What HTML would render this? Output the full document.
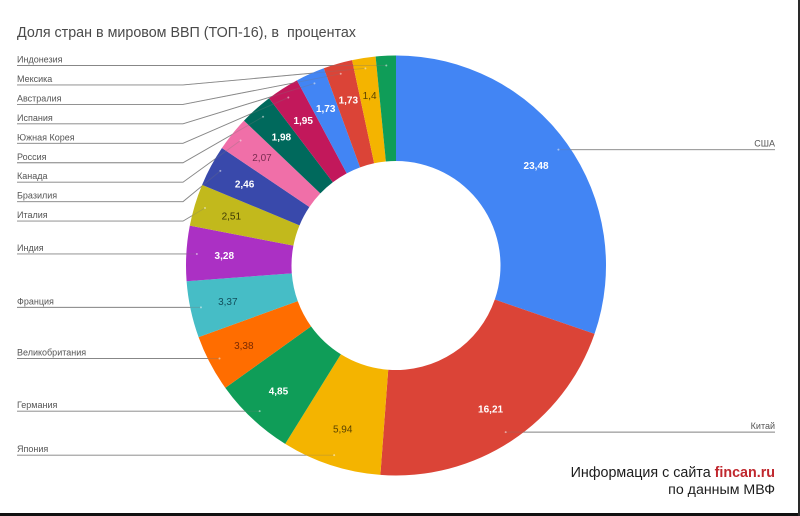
<!DOCTYPE html>
<html lang="ru">
<head>
<meta charset="utf-8">
<title>Доля стран в мировом ВВП</title>
<style>
html,body{margin:0;padding:0;background:#fff;}
body{width:800px;height:516px;overflow:hidden;position:relative;}
svg{display:block;position:absolute;left:0;top:0;filter:blur(0.35px);}
text{font-family:"Liberation Sans",sans-serif;}
</style>
</head>
<body>
<svg id="chart" width="800" height="516" viewBox="0 0 800 516">
  <rect x="0" y="0" width="800" height="516" fill="#ffffff"/>
  <text x="17" y="37" font-size="14.3" fill="#4a4a4a" xml:space="preserve">Доля стран в мировом ВВП (ТОП-16), в  процентах</text>
  <g id="leadersUnder"></g>
  <g id="slices"></g>
  <g id="leadersOver" opacity="0.3"></g>
  <g id="dots"></g>
  <g id="values"></g>
  <g id="names"></g>
  <text x="775" y="477" font-size="14.3" fill="#1c1c1c" text-anchor="end">Информация с сайта <tspan fill="#c0272d" font-weight="bold">fincan.ru</tspan></text>
  <text x="775" y="494" font-size="14.2" fill="#1c1c1c" text-anchor="end">по данным МВФ</text>
  <rect x="0" y="513" width="800" height="3" fill="#111111"/>
  <rect x="798" y="0" width="2" height="516" fill="#2a2a2a"/>
</svg>
<script>
const categories = ["США","Китай","Япония","Германия","Великобритания","Франция","Индия","Италия","Бразилия","Канада","Россия","Южная Корея","Испания","Австралия","Мексика","Индонезия"];
const seriesValues = [23.48,16.21,5.94,4.85,3.38,3.37,3.28,2.51,2.46,2.07,1.98,1.95,1.73,1.73,1.4,1.2];
const printedValues = ["23,48","16,21","5,94","4,85","3,38","3,37","3,28","2,51","2,46","2,07","1,98","1,95","1,73","1,73","1,4",""];
const sliceColors = ["#4285f4","#db4437","#f4b400","#0f9d58","#ff6d00","#46bdc6","#ab30c4","#c2b91c","#3949ab","#f06fa8","#00695c","#c2185b","#4285f4","#db4437","#f4b400","#0f9d58"];
const valueColors = ["#ffffff","#ffffff","#5a4300","#ffffff","#7a2a00","#124f5c","#ffffff","#3d3a05","#ffffff","#7a2b50","#ffffff","#ffffff","#ffffff","#ffffff","#5a4300","#ffffff"];

const NS = "http://www.w3.org/2000/svg";
const CX = 396, CY = 265.5, R = 210, r = 104.5;
const RL = 172, RA = 199.5;
const total = seriesValues.reduce((a, b) => a + b, 0);
const angleScale = v => v / total * Math.PI * 2;
const px = (a, rad) => CX + rad * Math.sin(a);
const py = (a, rad) => CY - rad * Math.cos(a);

const slicesG = document.getElementById("slices");
const leadersUnderG = document.getElementById("leadersUnder");
const leadersOverG = document.getElementById("leadersOver");
const dotsG = document.getElementById("dots");
const valuesG = document.getElementById("values");
const namesG = document.getElementById("names");

let cum = 0;
seriesValues.forEach(function (v, i) {
  const a0 = angleScale(cum);
  const a1 = angleScale(cum + v);
  const mid = (a0 + a1) / 2;
  cum += v;
  const large = a1 - a0 > Math.PI ? 1 : 0;

  const slice = document.createElementNS(NS, "path");
  slice.setAttribute("d",
    "M" + px(a0, R) + " " + py(a0, R) +
    "A" + R + " " + R + " 0 " + large + " 1 " + px(a1, R) + " " + py(a1, R) +
    "L" + px(a1, r) + " " + py(a1, r) +
    "A" + r + " " + r + " 0 " + large + " 0 " + px(a0, r) + " " + py(a0, r) + "Z");
  slice.setAttribute("fill", sliceColors[i]);
  
  
  slicesG.appendChild(slice);

  const ax = px(mid, RA), ay = py(mid, RA);
  const onRight = mid < Math.PI;
  const n = categories.length;
  const rowsFromEnd = n - 1 - i;
  const isStacked = rowsFromEnd < 9;
  const lineY = isStacked ? 65.5 + 19.45 * rowsFromEnd : ay;
  const lineEnd = onRight ? 775 : 17;

  let pts;
  if (isStacked && rowsFromEnd > 0) {
    pts = lineEnd + "," + lineY + " 183," + lineY + " " + ax + "," + ay;
  } else {
    pts = lineEnd + "," + lineY + " " + ax + "," + lineY;
  }

  const leader = document.createElementNS(NS, "polyline");
  leader.setAttribute("points", pts);
  leader.setAttribute("fill", "none");
  leader.setAttribute("stroke", "#8f8f8f");
  leader.setAttribute("stroke-width", "0.9");
  
  
  leadersUnderG.appendChild(leader);

  const leaderOver = document.createElementNS(NS, "polyline");
  leaderOver.setAttribute("points", pts);
  leaderOver.setAttribute("fill", "none");
  leaderOver.setAttribute("stroke", "#777777");
  leaderOver.setAttribute("stroke-width", "0.9");
  
  
  leadersOverG.appendChild(leaderOver);

  const dot = document.createElementNS(NS, "circle");
  dot.setAttribute("cx", ax);
  dot.setAttribute("cy", isStacked && rowsFromEnd > 0 ? ay : lineY);
  dot.setAttribute("r", "1");
  dot.setAttribute("fill", "#ffffff");
  dot.setAttribute("fill-opacity", "0.5");
  
  
  dotsG.appendChild(dot);

  const name = document.createElementNS(NS, "text");
  name.setAttribute("x", lineEnd);
  name.setAttribute("y", lineY - 3);
  name.setAttribute("font-size", "9");
  name.setAttribute("fill", "#555555");
  name.setAttribute("text-anchor", onRight ? "end" : "start");
  
  
  name.textContent = categories[i];
  namesG.appendChild(name);

  if (printedValues[i]) {
    const label = document.createElementNS(NS, "text");
    label.setAttribute("x", px(mid, RL));
    label.setAttribute("y", py(mid, RL) + 3.5);
    label.setAttribute("font-size", "10");
    label.setAttribute("font-weight", valueColors[i] === "#ffffff" ? "bold" : "normal");
    label.setAttribute("fill", valueColors[i]);
    label.setAttribute("text-anchor", "middle");
    
    
    label.textContent = printedValues[i];
    valuesG.appendChild(label);
  }
});
</script>
</body>
</html>
